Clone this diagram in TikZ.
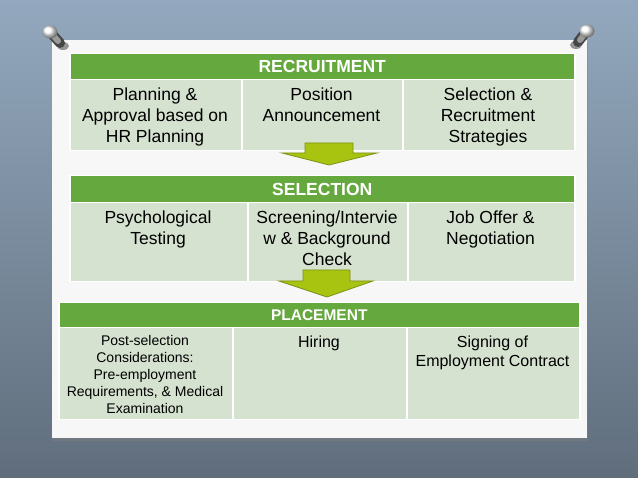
\documentclass[tikz,border=0pt]{standalone}
\usepackage{fontspec}
\setmainfont{Liberation Sans}
\usetikzlibrary{shadows}
\definecolor{bgtop}{RGB}{147,168,190}
\definecolor{bgbot}{RGB}{96,110,124}
\definecolor{paper}{RGB}{247,247,247}
\definecolor{hdrgreen}{RGB}{101,168,62}
\definecolor{cellgreen}{RGB}{214,226,208}
\definecolor{arrowfill}{RGB}{168,196,16}
\definecolor{arrowline}{RGB}{125,145,20}
\begin{document}
\begin{tikzpicture}[x=1pt,y=-1pt,
  head/.style={fill=hdrgreen,draw=white,line width=1.5pt,anchor=north west,
    inner sep=0pt,text=white,font=\bfseries\fontsize{17.5}{21}\selectfont},
  cell/.style={fill=cellgreen,draw=white,line width=1.5pt,anchor=north west,
    inner sep=0pt},
  celltext/.style={anchor=north,align=center,inner sep=0pt,
    font=\fontsize{17.5}{21}\selectfont},
  bigarrow/.style={fill=arrowfill,draw=arrowline,line width=0.8pt}]
  \useasboundingbox (0,0) rectangle (638,478);
  % backdrop and paper
  \shade[top color=bgtop,bottom color=bgbot] (0,0) rectangle (638,478);
  \node[fill=paper,minimum width=535,minimum height=398,anchor=north west,
    inner sep=0pt,drop shadow={opacity=0.45,shadow xshift=1pt,shadow yshift=-3pt}]
    (card) at (52,40) {};
  % pins
  \fill[black,opacity=0.4] (63,46) ellipse (6 and 4);
  \draw[gray!55!black,line width=10pt,line cap=round] (52,34) -- (60,43);
  \draw[gray!80,line width=6pt,line cap=round] (51,33) -- (58,41);
  \shade[ball color=white] (50,32) ellipse (7.5 and 6.5);
  \fill[black,opacity=0.4] (576,45) ellipse (6 and 4);
  \draw[gray!55!black,line width=10pt,line cap=round] (585,33) -- (578,42);
  \draw[gray!80,line width=6pt,line cap=round] (586,32) -- (580,40);
  \shade[ball color=white] (587,31) ellipse (7.5 and 6.5);
  % recruitment table
  \node[head,minimum width=505,minimum height=26] (recHead) at (69,53) {RECRUITMENT};
  \node[cell,minimum width=172,minimum height=71] (recA) at (69,79) {};
  \node[cell,minimum width=161,minimum height=71] (recB) at (241,79) {};
  \node[cell,minimum width=172,minimum height=71] (recC) at (402,79) {};
  % selection table
  \node[head,minimum width=505,minimum height=27] (selHead) at (69,175) {SELECTION};
  \node[cell,minimum width=178,minimum height=79] (selA) at (69,202) {};
  \node[cell,minimum width=160,minimum height=79] (selB) at (247,202) {};
  \node[cell,minimum width=167,minimum height=79] (selC) at (407,202) {};
  % placement table
  \node[head,minimum width=521,minimum height=25,
    font=\bfseries\fontsize{15.5}{19}\selectfont] (plaHead) at (58,302) {PLACEMENT};
  \node[cell,minimum width=174,minimum height=92] (plaA) at (58,327) {};
  \node[cell,minimum width=174,minimum height=92] (plaB) at (232,327) {};
  \node[cell,minimum width=173,minimum height=92] (plaC) at (406,327) {};
  % arrows between the tables
  \coordinate (arrOne) at (329,143);
  \draw[bigarrow] (arrOne) ++(-24,0) -- ++(48,0) -- ++(0,10) -- ++(24,0)
    -- ++(-48,12) -- ++(-47,-12) -- ++(23,0) -- cycle;
  \coordinate (arrTwo) at (326,270);
  \draw[bigarrow] (arrTwo) ++(-23,0) -- ++(47,0) -- ++(0,11) -- ++(23,0)
    -- ++(-46,16) -- ++(-48,-16) -- ++(24,0) -- cycle;
  % cell texts
  \node[celltext] (recAtxt) at (155,88) {Planning \&\\Approval based on\\HR Planning};
  \node[celltext] (recBtxt) at (321.5,88) {Position\\Announcement};
  \node[celltext] (recCtxt) at (488,88) {Selection \&\\Recruitment\\Strategies};
  \node[celltext] (selAtxt) at (158,211) {Psychological\\Testing};
  \node[celltext] (selBtxt) at (327,211) {Screening/Intervie\\w \& Background\\Check};
  \node[celltext] (selCtxt) at (490.5,211) {Job Offer \&\\Negotiation};
  \node[celltext,font=\fontsize{14}{17}\selectfont] (plaAtxt) at (145,335)
    {Post-selection\\Considerations:\\Pre-employment\\Requirements, \& Medical\\Examination};
  \node[celltext,font=\fontsize{16}{19}\selectfont] (plaBtxt) at (319,336) {Hiring};
  \node[celltext,font=\fontsize{16}{19}\selectfont] (plaCtxt) at (492.5,336)
    {Signing of\\Employment Contract};
\end{tikzpicture}
\end{document}
